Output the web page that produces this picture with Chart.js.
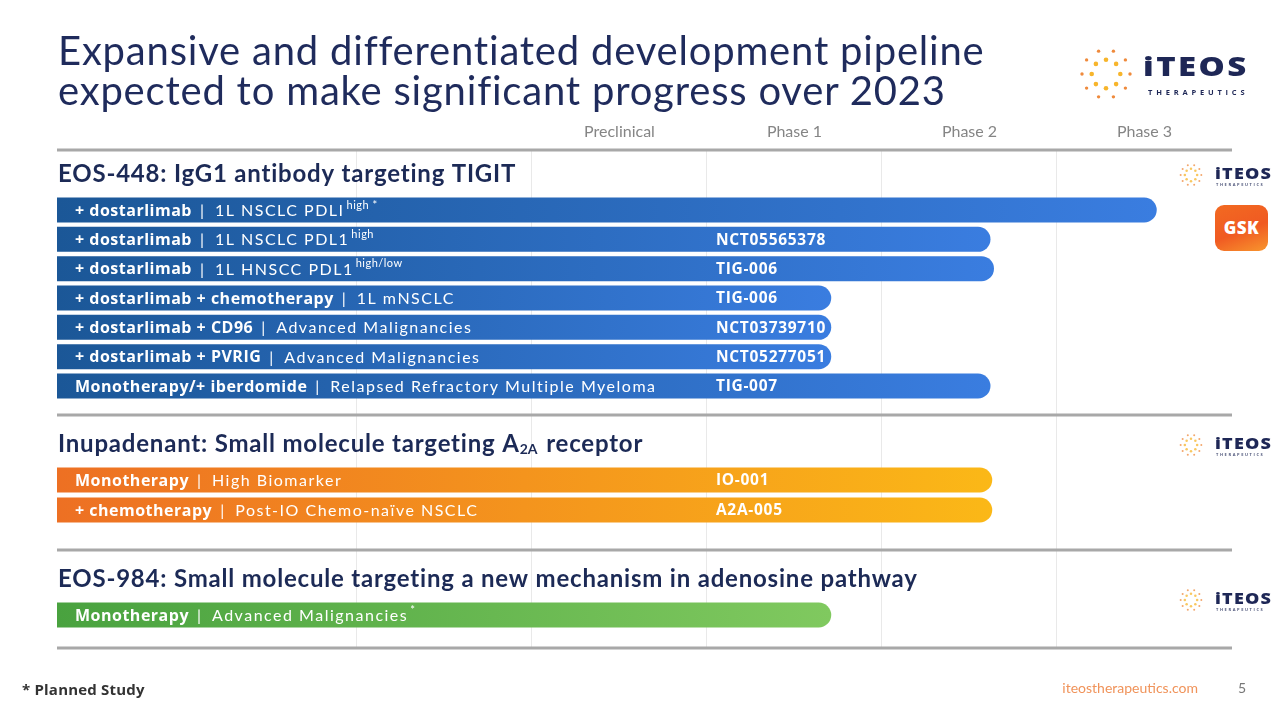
<!DOCTYPE html>
<html>
<head>
<meta charset="utf-8">
<script src="https://cdn.jsdelivr.net/npm/chart.js@4.4.1/dist/chart.umd.min.js"></script>
<style>
  html, body { margin:0; padding:0; background:#fff; width:1280px; height:720px; overflow:hidden; }
  #wrap { position:absolute; left:0; top:0; width:1280px; height:720px; }
  #title { position:absolute; left:58px; top:30px; font-family:Lato, sans-serif; font-size:40px; line-height:40px; letter-spacing:0.8px; color:#1f2b5c; font-weight:400; white-space:nowrap; z-index:2; }
  .footL { position:absolute; left:22px; top:679px; font-family:"Open Sans", sans-serif; font-weight:700; font-size:15px; letter-spacing:0.2px; color:#333; z-index:2; }
  .footR { position:absolute; right:82px; top:679px; font-family:Lato, sans-serif; font-size:14px; color:#f0935a; z-index:2; }
  .page { position:absolute; left:1238px; top:679px; font-family:Lato, sans-serif; font-size:14px; color:#777; z-index:2; }
  .lname { position:absolute; font-family:"Open Sans", sans-serif; font-weight:800; color:#1e2756; white-space:nowrap; transform-origin:0 0; z-index:2; }
  .lsub { position:absolute; font-family:"Open Sans", sans-serif; font-weight:700; color:#1e2756; white-space:nowrap; z-index:2; }
  .dots { position:absolute; z-index:2; }
  #gsk { position:absolute; left:1215px; top:205px; width:53px; height:46px; border-radius:9px; background:linear-gradient(160deg,#f26a21 0%,#f05a22 55%,#f8962e 100%); color:#fff; font-family:"Open Sans", sans-serif; font-weight:800; font-size:17px; line-height:46px; text-align:center; letter-spacing:0.5px; z-index:2; }
</style>
</head>
<body>
<div id="wrap"><canvas id="c" width="1280" height="720"></canvas></div>
<div id="title">Expansive and differentiated development pipeline<br>expected to make significant progress over 2023</div>

<canvas class="dots" id="dotsBig" width="60" height="60" style="left:1076px;top:44px;"></canvas>
<div class="lname" style="left:1143px;top:48px;font-size:27px;line-height:36px;letter-spacing:2px;transform:scaleX(1.22);">iTEOS</div>
<div class="lsub" style="left:1148px;top:86px;font-size:7.5px;line-height:12px;letter-spacing:3.8px;">THERAPEUTICS</div>

<canvas class="dots" id="dotsS1" width="30" height="30" style="left:1176px;top:160px;"></canvas>
<div class="lname" style="left:1215px;top:164px;font-size:15px;line-height:18px;letter-spacing:1px;transform:scaleX(1.2);">iTEOS</div>
<div class="lsub" style="left:1216px;top:182px;font-size:4px;line-height:6px;letter-spacing:1.6px;opacity:0.8;">THERAPEUTICS</div>

<div id="gsk">GSK</div>

<canvas class="dots" id="dotsS2" width="30" height="30" style="left:1176px;top:430px;"></canvas>
<div class="lname" style="left:1215px;top:434px;font-size:15px;line-height:18px;letter-spacing:1px;transform:scaleX(1.2);">iTEOS</div>
<div class="lsub" style="left:1216px;top:452px;font-size:4px;line-height:6px;letter-spacing:1.6px;opacity:0.8;">THERAPEUTICS</div>

<canvas class="dots" id="dotsS3" width="30" height="30" style="left:1176px;top:585px;"></canvas>
<div class="lname" style="left:1215px;top:589px;font-size:15px;line-height:18px;letter-spacing:1px;transform:scaleX(1.2);">iTEOS</div>
<div class="lsub" style="left:1216px;top:607px;font-size:4px;line-height:6px;letter-spacing:1.6px;opacity:0.8;">THERAPEUTICS</div>

<div class="footL">* Planned Study</div>
<div class="footR">iteostherapeutics.com</div>
<div class="page">5</div>

<script>
// ---------------- DATA ----------------
const PHASES = ['Preclinical', 'Phase 1', 'Phase 2', 'Phase 3'];
const GRID_VALUES = [-1, 0, 1, 2, 3];      // column boundaries (phase units)
const AXIS_MAX = 4;                         // end of the Phase 3 column
const TRACK_START = -2.714;                 // start of the label column

const SECTION_TITLES = [
  [['EOS-448: IgG1 antibody targeting TIGIT', '']],
  [['Inupadenant: Small molecule targeting A', '2A'], [' receptor', '']],
  [['EOS-984: Small molecule targeting a new mechanism in adenosine pathway', '']]
];

const TIGIT_REGIMENS = ['+ dostarlimab', '+ dostarlimab', '+ dostarlimab', '+ dostarlimab + chemotherapy', '+ dostarlimab + CD96', '+ dostarlimab + PVRIG', 'Monotherapy/+ iberdomide'];
const TIGIT_INDICATIONS = ['1L NSCLC PDLI', '1L NSCLC PDL1', '1L HNSCC PDL1', '1L mNSCLC', 'Advanced Malignancies', 'Advanced Malignancies', 'Relapsed Refractory Multiple Myeloma'];
const TIGIT_NOTES = ['high *', 'high', 'high/low', '', '', '', ''];
const TIGIT_TRIALS = ['', 'NCT05565378', 'TIG-006', 'TIG-006', 'NCT03739710', 'NCT05277051', 'TIG-007'];
const TIGIT_PROGRESS = [3.57, 2.62, 2.64, 1.71, 1.71, 1.71, 2.62];

const INUP_REGIMENS = ['Monotherapy', '+ chemotherapy'];
const INUP_INDICATIONS = ['High Biomarker', 'Post-IO Chemo-naïve NSCLC'];
const INUP_NOTES = ['', ''];
const INUP_TRIALS = ['IO-001', 'A2A-005'];
const INUP_PROGRESS = [2.63, 2.63];

const EOS984_REGIMENS = ['Monotherapy'];
const EOS984_INDICATIONS = ['Advanced Malignancies'];
const EOS984_NOTES = ['*'];
const EOS984_TRIALS = [''];
const EOS984_PROGRESS = [1.71];

// ---------------- STYLE / LAYOUT ----------------
const BLUE = ['#1b5797', '#3a7de0'];
const ORANGE = ['#ed7023', '#fbb817'];
const GREEN = ['#49a23f', '#80c95f'];
const NAVY = '#1c2a56';
// relative heights of the stacked row bands (top to bottom)
const BANDS = [
  {id: 'yg0', w: 45.3}, {id: 'ys1', w: 205.3}, {id: 'yg1', w: 64.3},
  {id: 'ys2', w: 60}, {id: 'yg2', w: 75}, {id: 'ys3', w: 30}, {id: 'yg3', w: 18}
];

const sections = [
  {axis: 'ys1', reg: TIGIT_REGIMENS, ind: TIGIT_INDICATIONS, notes: TIGIT_NOTES, trials: TIGIT_TRIALS, prog: TIGIT_PROGRESS, colors: BLUE},
  {axis: 'ys2', reg: INUP_REGIMENS, ind: INUP_INDICATIONS, notes: INUP_NOTES, trials: INUP_TRIALS, prog: INUP_PROGRESS, colors: ORANGE},
  {axis: 'ys3', reg: EOS984_REGIMENS, ind: EOS984_INDICATIONS, notes: EOS984_NOTES, trials: EOS984_TRIALS, prog: EOS984_PROGRESS, colors: GREEN}
];

function gradientFill(colors) {
  return (c) => {
    const chart = c.chart;
    if (c.type !== 'data' || !chart.chartArea) return colors[0];
    const xs = chart.scales.x;
    const x0 = xs.getPixelForValue(Math.min(c.raw[0], c.raw[1]));
    const x1 = xs.getPixelForValue(Math.max(c.raw[0], c.raw[1]));
    const g = chart.ctx.createLinearGradient(x0, 0, x1, 0);
    g.addColorStop(0, colors[0]);
    g.addColorStop(1, colors[1]);
    return g;
  };
}

const scales = {
  x: {
    type: 'linear', position: 'bottom', min: TRACK_START, max: AXIS_MAX,
    afterBuildTicks: (s) => { s.ticks = GRID_VALUES.map(v => ({value: v})); },
    grid: {color: '#e9e9e9', lineWidth: 1, drawTicks: false},
    border: {display: false},
    ticks: {display: false}
  }
};
BANDS.forEach((b, i) => {
  const sec = sections.find(s => s.axis === b.id);
  scales[b.id] = {
    type: 'category', axis: 'y', position: 'left', stack: 'rows', stackWeight: b.w,
    weight: BANDS.length - i, offset: true,
    labels: sec ? sec.reg.map((r, k) => r + ' | ' + sec.ind[k]) : [''],
    grid: {display: false, drawTicks: false}, border: {display: false}, ticks: {display: false}
  };
});

const datasets = sections.map(s => ({
  label: s.axis,
  data: s.prog.map(v => [TRACK_START, v]),
  xAxisID: 'x', yAxisID: s.axis,
  grouped: false,
  backgroundColor: gradientFill(s.colors),
  borderWidth: 0,
  borderSkipped: false,
  inflateAmount: 0,
  borderRadius: {topLeft: 0, bottomLeft: 0, topRight: 12.5, bottomRight: 12.5},
  barThickness: 25
}));

function drawParts(ctx, x, y, parts) {
  parts.forEach(p => {
    ctx.font = p.font;
    ctx.letterSpacing = p.ls || '0px';
    ctx.fillStyle = p.color;
    ctx.fillText(p.text, x, y + (p.dy || 0));
    x += ctx.measureText(p.text).width + (p.gap || 0);
  });
  ctx.letterSpacing = '0px';
  return x;
}

const BAR_BOLD = '700 16px "Open Sans"';
const BAR_REG = '400 16px Lato';
const BAR_SUP = '400 11px Lato';
const ID_FONT = '700 15.5px "Open Sans"';
const HEAD_FONT = '700 24px Lato';
const HEAD_SUB = '700 14px Lato';

const overlay = {
  id: 'overlay',
  afterDatasetsDraw(chart) {
    const {ctx, chartArea: a, scales: sc} = chart;
    const xs = sc.x;
    ctx.save();
    // separators
    ctx.strokeStyle = '#a8a8a8';
    ctx.lineWidth = 3;
    [a.top, sc.ys2.top - 50, sc.ys3.top - 50, a.bottom].forEach(y => {
      ctx.beginPath(); ctx.moveTo(a.left, Math.round(y)); ctx.lineTo(a.right, Math.round(y)); ctx.stroke();
    });
    // phase headers
    ctx.textBaseline = 'middle';
    ctx.textAlign = 'center';
    ctx.font = '400 16px Lato';
    ctx.fillStyle = '#858585';
    PHASES.forEach((p, i) => ctx.fillText(p, xs.getPixelForValue(i + 0.5), a.top - 18));
    ctx.textAlign = 'left';
    // section titles
    sections.forEach((s, i) => {
      const y = sc[s.axis].top - 21;
      const parts = [];
      SECTION_TITLES[i].forEach(([t, sub]) => {
        parts.push({text: t, font: HEAD_FONT, color: NAVY, ls: '0.8px'});
        if (sub) parts.push({text: sub, font: HEAD_SUB, color: NAVY, dy: 6, gap: 2});
      });
      drawParts(ctx, a.left + 1, y, parts);
    });
    // bar labels
    const left = xs.getPixelForValue(TRACK_START);
    sections.forEach((s, di) => {
      const meta = chart.getDatasetMeta(di);
      meta.data.forEach((bar, k) => {
        const y = bar.y + 1;
        const parts = [
          {text: s.reg[k], font: BAR_BOLD, color: '#fff', ls: '0.5px', gap: 8},
          {text: '|', font: BAR_REG, color: '#fff', gap: 11},
          {text: s.ind[k], font: BAR_REG, color: '#fff', ls: '1.5px', gap: 2}
        ];
        if (s.notes[k]) parts.push({text: s.notes[k], font: BAR_SUP, color: '#fff', ls: '0.5px', dy: -6});
        drawParts(ctx, left + 18, y, parts);
        if (s.trials[k]) {
          drawParts(ctx, xs.getPixelForValue(1) + 9, y, [{text: s.trials[k], font: ID_FONT, color: '#fff', ls: '0.7px'}]);
        }
      });
    });
    ctx.restore();
  }
};

new Chart(document.getElementById('c'), {
  type: 'bar',
  data: {datasets},
  options: {
    indexAxis: 'y',
    responsive: false,
    animation: false,
    layout: {padding: {left: 57, right: 48, top: 150, bottom: 72}},
    scales,
    plugins: {legend: {display: false}, tooltip: {enabled: false}, title: {display: false}}
  },
  plugins: [overlay]
});

// logo dot suns
function drawSun(id, scale, alpha) {
  const cv = document.getElementById(id);
  const c = cv.getContext('2d');
  const cx = cv.width / 2, cy = cv.height / 2;
  c.globalAlpha = alpha;
  for (let k = 0; k < 10; k++) {
    const an = k * Math.PI / 5;
    c.fillStyle = '#ef8a3c';
    c.beginPath(); c.arc(cx + Math.cos(an) * 24 * scale, cy + Math.sin(an) * 24 * scale, 1.7 * Math.max(scale, 0.6), 0, Math.PI * 2); c.fill();
  }
  for (let k = 0; k < 8; k++) {
    const an = k * Math.PI / 4;
    c.fillStyle = '#f7b52b';
    c.beginPath(); c.arc(cx + Math.cos(an) * 14.3 * scale, cy + Math.sin(an) * 14.3 * scale, 2.3 * Math.max(scale, 0.55), 0, Math.PI * 2); c.fill();
  }
}
drawSun('dotsBig', 1, 1);
drawSun('dotsS1', 0.43, 0.75);
drawSun('dotsS2', 0.43, 0.75);
drawSun('dotsS3', 0.43, 0.75);
</script>
</body>
</html>
